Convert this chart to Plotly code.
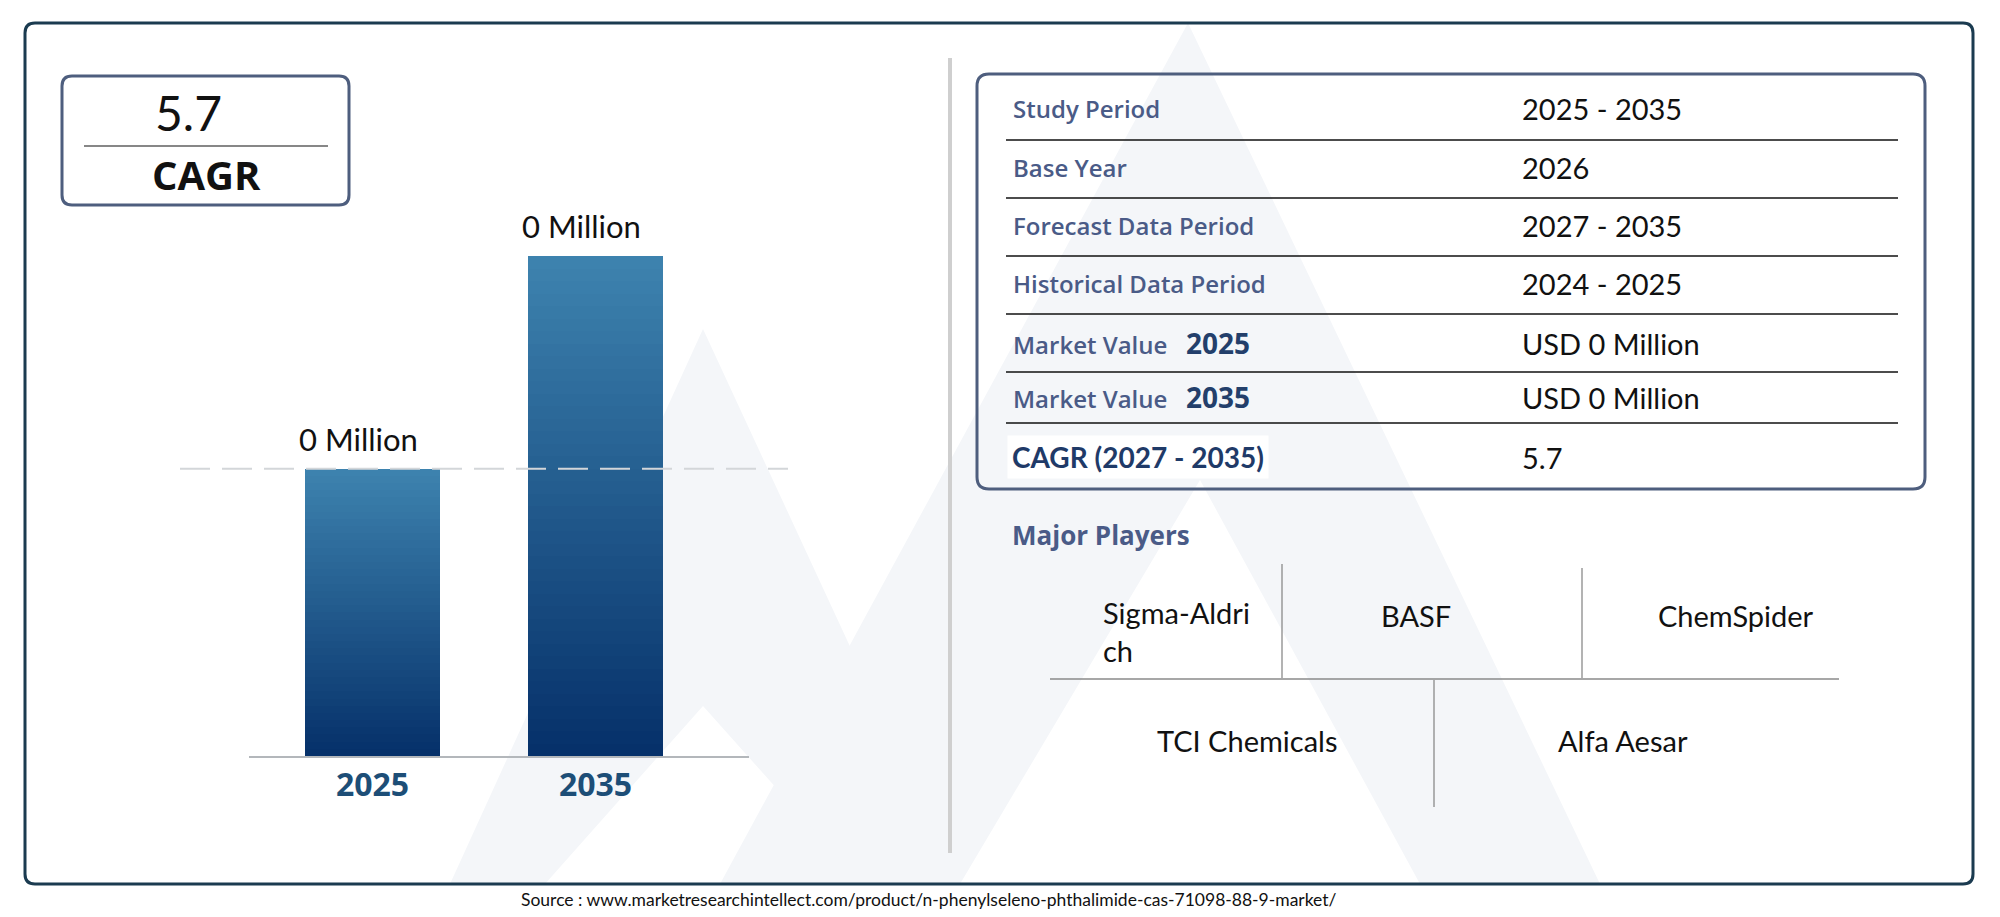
import plotly.graph_objects as go

W, H = 2000, 917

# bar chart data (both values are shown as "0 Million" in the source)
years = ["2025", "2035"]
market_size = [100, 174]
size_labels = ["0 Million", "0 Million"]
cagr_value = "5.7"

# summary table
table_labels = ["Study Period", "Base Year", "Forecast Data Period", "Historical Data Period",
                "Market Value", "Market Value", "CAGR (2027 - 2035)"]
table_label_years = ["", "", "", "", "2025", "2035", ""]
table_values = ["2025 - 2035", "2026", "2027 - 2035", "2024 - 2025",
                "USD 0 Million", "USD 0 Million", "5.7"]

players_top = ["Sigma-Aldrich", "BASF", "ChemSpider"]
players_bottom = ["TCI Chemicals", "Alfa Aesar"]

source_text = "Source : www.marketresearchintellect.com/product/n-phenylseleno-phthalimide-cas-71098-88-9-market/"


def px(x):
    return x / W


def py(y):
    return 1 - y / H


def rounded_rect(x0, y0, x1, y1, r):
    # path in paper coords, corners done with quadratic curves
    rx, ry = r / W, r / H
    a, b, c, d = px(x0), py(y0), px(x1), py(y1)
    return (f"M{a + rx},{b} L{c - rx},{b} Q{c},{b} {c},{b - ry} "
            f"L{c},{d + ry} Q{c},{d} {c - rx},{d} L{a + rx},{d} "
            f"Q{a},{d} {a},{d + ry} L{a},{b - ry} Q{a},{b} {a + rx},{b} Z")


def poly(points):
    return "M" + " L".join(f"{px(x)},{py(y)}" for x, y in points) + " Z"


def mix(c1, c2, t):
    return "rgb({},{},{})".format(*[round(a + (b - a) * t) for a, b in zip(c1, c2)])


def note(x, y, text, font, xanchor="center", **kw):
    # paper-anchored text, anchors always explicit (auto would flip them near edges)
    return dict(x=px(x), y=py(y), xref="paper", yref="paper", text=text, showarrow=False,
                xanchor=xanchor, yanchor="middle", font=font, **kw)


fig = go.Figure()

# gradient bars: each bar is stacked from thin slices, dark at bottom, light at top
n_seg = 40
bottom_rgb = (0x06, 0x31, 0x6a)
top_rgb = (0x3d, 0x82, 0xae)
for k in range(n_seg):
    fig.add_trace(go.Bar(
        x=years,
        y=[v / n_seg for v in market_size],
        width=0.605,
        marker=dict(color=mix(bottom_rgb, top_rgb, k / (n_seg - 1)), line=dict(width=0)),
        showlegend=False,
        hoverinfo="skip",
    ))

shapes = []

# faint logo watermark
wm = "#f4f6f9"
shapes.append(dict(type="path", xref="paper", yref="paper", layer="below", line=dict(width=0), fillcolor=wm,
                   path=poly([(720, 884), (1188, 23), (1600, 884)]) + " " + poly([(1420, 884), (1200, 480), (960, 884)])))
shapes.append(dict(type="path", xref="paper", yref="paper", layer="below", line=dict(width=0), fillcolor=wm,
                   path=poly([(450, 884), (703, 329), (960, 884)]) + " " + poly([(862, 884), (703, 706), (545, 884)])))

# outer frame
shapes.append(dict(type="path", xref="paper", yref="paper", path=rounded_rect(25, 23, 1973, 884, 10),
                   line=dict(color="#1b3b50", width=3)))
# CAGR box
shapes.append(dict(type="path", xref="paper", yref="paper", path=rounded_rect(62, 76, 349, 205, 10),
                   line=dict(color="#4e5e7e", width=3)))
shapes.append(dict(type="line", xref="paper", yref="paper", x0=px(84), x1=px(328), y0=py(146), y1=py(146),
                   line=dict(color="#111111", width=1.2)))
# divider between halves
shapes.append(dict(type="line", xref="paper", yref="paper", x0=px(950), x1=px(950), y0=py(58), y1=py(853),
                   line=dict(color="#cfcfcf", width=4)))
# dashed reference at the first bar's height
shapes.append(dict(type="line", xref="paper", yref="y", x0=px(180), x1=px(788),
                   y0=market_size[0], y1=market_size[0], layer="above",
                   line=dict(color="#d3d6d9", width=2, dash="30px,12px")))

# table box and row rules
shapes.append(dict(type="path", xref="paper", yref="paper", path=rounded_rect(977, 74, 1925, 489, 12),
                   line=dict(color="#4e5e7e", width=3)))
row_y = [108, 168, 226, 283, 343, 397, 457]
rule_y = [140, 198, 256, 314, 372, 423]
for yy in rule_y:
    shapes.append(dict(type="line", xref="paper", yref="paper", x0=px(1006), x1=px(1898), y0=py(yy), y1=py(yy),
                       line=dict(color="#111111", width=1.5)))

# major players grid
grid = "#8a8a8a"
for x0, y0, x1, y1 in [(1282, 564, 1282, 678), (1582, 568, 1582, 678), (1434, 680, 1434, 807),
                       (1050, 679, 1839, 679)]:
    shapes.append(dict(type="line", xref="paper", yref="paper", x0=px(x0), x1=px(x1), y0=py(y0), y1=py(y1),
                       line=dict(color=grid, width=1.3)))

ann = []
# bar value labels (category axis -> use the index)
for i, (v, lab) in enumerate(zip(market_size, size_labels)):
    ann.append(dict(x=i, y=v, xref="x", yref="y", text=lab, showarrow=False, yshift=30, xshift=-14,
                    xanchor="center", yanchor="middle",
                    font=dict(family="Lato", size=31, color="#111111")))

# CAGR box text
ann.append(note(188, 113, cagr_value, dict(family="Lato", size=48, color="#111111")))
ann.append(note(206, 174, "CAGR", dict(family="Open Sans", size=40, color="#111111", weight=700)))

# table rows
label_color = "#4a5b87"
for i, (lab, ly, val) in enumerate(zip(table_labels, table_label_years, table_values)):
    if lab.startswith("CAGR"):
        ann.append(note(1007, row_y[i], lab, dict(family="Lato", size=28, color="#1f3a68", weight=700),
                        xanchor="left", bgcolor="white", borderpad=4))
    else:
        txt = lab
        if ly:
            txt = lab + "\u00a0\u00a0\u00a0<span style='color:#233f6b;font-size:28px'><b>" + ly + "</b></span>"
        ann.append(note(1011, row_y[i], txt, dict(family="Open Sans", size=24, color=label_color, weight=600),
                        xanchor="left"))
    ann.append(note(1520, row_y[i], val, dict(family="Lato", size=29, color="#111111"), xanchor="left"))

ann.append(note(1010, 535, "Major Players", dict(family="Open Sans", size=26, color=label_color, weight=700),
                xanchor="left"))

# players, first one wraps like the source layout
pfont = dict(family="Lato", size=29, color="#111111")
top_x = [1101, 1416, 1736]
for name, xx in zip(players_top, top_x):
    if len(name) > 11:
        ann.append(note(xx, 631, name[:11] + "<br>" + name[11:], pfont, xanchor="left", align="left"))
    else:
        ann.append(note(xx, 615, name, pfont))
for name, xx in zip(players_bottom, [1247, 1623]):
    ann.append(note(xx, 740, name, pfont))

ann.append(note(929, 899, source_text, dict(family="Lato", size=17.5, color="#111111")))

fig.update_layout(
    width=W, height=H,
    margin=dict(l=0, r=0, t=0, b=0),
    paper_bgcolor="white",
    plot_bgcolor="rgba(0,0,0,0)",
    barmode="stack",
    bargap=0,
    shapes=shapes,
    annotations=ann,
    xaxis=dict(domain=[px(249), px(749)], type="category", range=[-0.554, 1.688],
               showline=True, linecolor="#b3b7bb", linewidth=1.5, ticks="", showgrid=False,
               ticklabelstandoff=0,
               tickfont=dict(family="Open Sans", size=32, color="#1d4e77", weight=700)),
    yaxis=dict(domain=[py(756), py(256)], range=[0, max(market_size)], visible=False, showgrid=False),
)

fig.write_html("out.html", config={"displayModeBar": False},
               post_script="document.body.style.margin='0';")
